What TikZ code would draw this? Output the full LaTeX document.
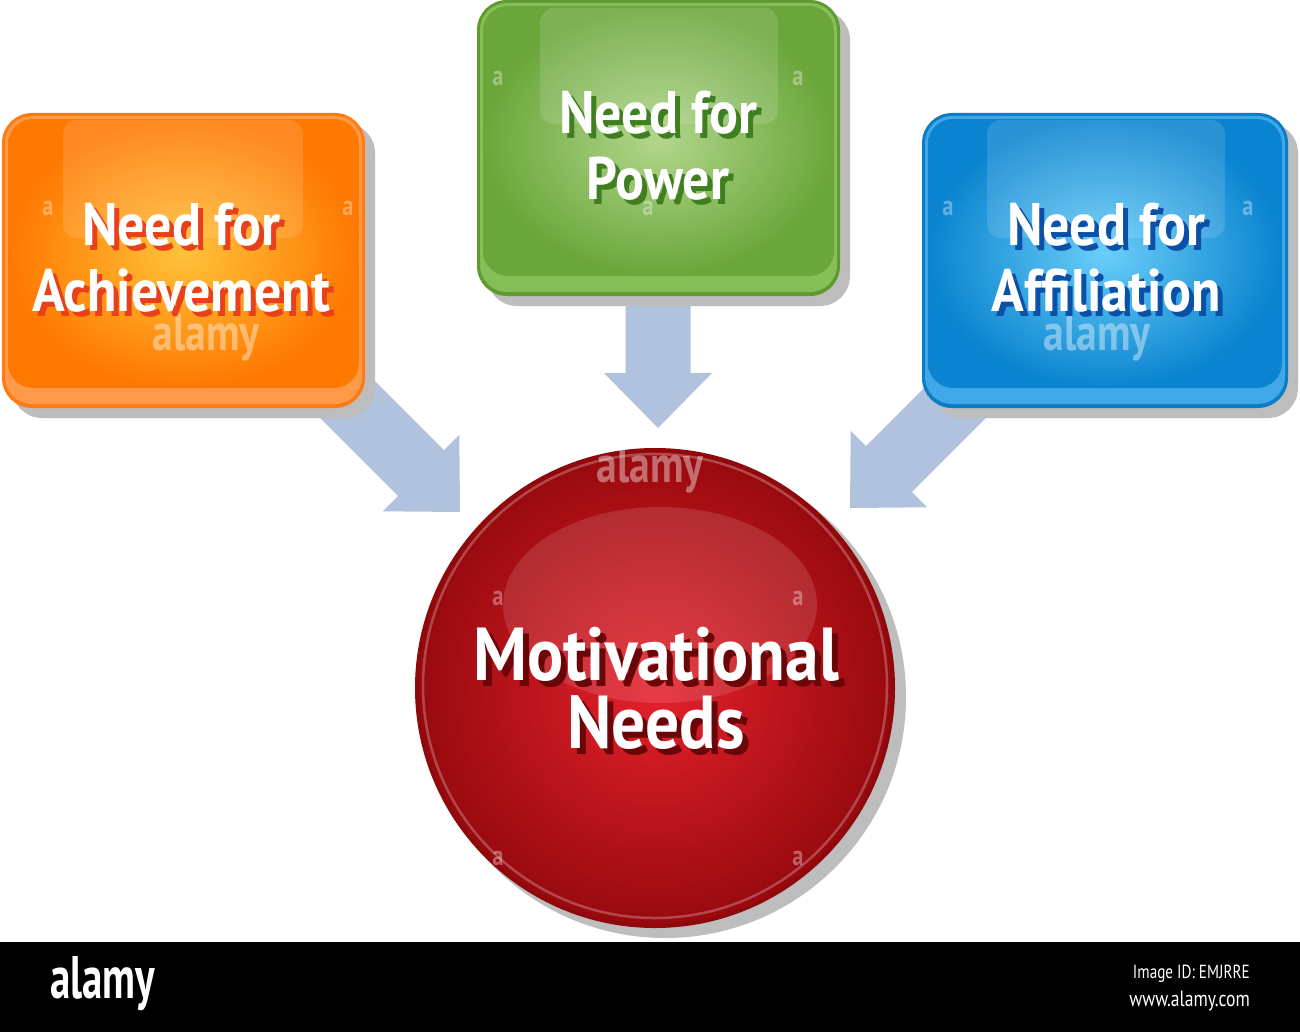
\documentclass[tikz,border=0pt]{standalone}
\usepackage{fontspec}
\newfontfamily\cond[FakeStretch=0.9]{PT Sans}
\newfontfamily\condw[FakeStretch=0.8]{PT Sans}
\newfontfamily\condx[FakeStretch=0.68]{PT Sans}
\definecolor{arrowc}{HTML}{B0C2DE}
\definecolor{shadowc}{HTML}{BDBDBD}
\definecolor{orRim}{HTML}{FF7A10}
\definecolor{orLight}{HTML}{FF9A48}
\definecolor{orOut}{HTML}{FF7800}
\definecolor{orIn}{HTML}{FFC23A}
\definecolor{orTxt}{HTML}{E8401A}
\definecolor{grRim}{HTML}{5E9A30}
\definecolor{grLight}{HTML}{86BE58}
\definecolor{grOut}{HTML}{6AA63A}
\definecolor{grIn}{HTML}{B2D68C}
\definecolor{grTxt}{HTML}{3F7F1F}
\definecolor{blRim}{HTML}{0C7CC4}
\definecolor{blLight}{HTML}{40A8E8}
\definecolor{blOut}{HTML}{0A84D0}
\definecolor{blIn}{HTML}{6ACEF8}
\definecolor{blTxt}{HTML}{0A4FA8}
\definecolor{rdRim}{HTML}{8E080C}
\definecolor{rdOut}{HTML}{980A0E}
\definecolor{rdIn}{HTML}{E5212C}
\definecolor{rdTxt}{HTML}{6A0508}
\begin{document}
\begin{tikzpicture}[x=1pt,y=-1pt,
  blockarrow/.style={fill=arrowc},
  lbl/.style={text=white,font=\cond\bfseries\fontsize{60}{66}\selectfont,align=center,inner sep=0},
  bigl/.style={text=white,font=\cond\bfseries\fontsize{75}{68}\selectfont,align=center,inner sep=0},
  wm/.style={text=white,opacity=0.4,font=\condw\bfseries\fontsize{52}{52}\selectfont,inner sep=0},
  wa/.style={text=white,opacity=0.35,font=\condw\bfseries\fontsize{28}{28}\selectfont,inner sep=0},
  hl/.style={fill=white,fill opacity=0.13,rounded corners=14}
]
\useasboundingbox (0,0) rectangle (1300,1032);
\fill[white] (0,0) rectangle (1300,1032);

% ---------- block arrows ----------
\def\arrowpath#1{(0,0) -- (54,-55) -- (32.5,-55) -- (32.5,-#1) -- (-32.5,-#1) -- (-32.5,-55) -- (-54,-55) -- cycle}
\begin{scope}[shift={(658,428)}]
  \fill[blockarrow] \arrowpath{130};
\end{scope}
\begin{scope}[shift={(460,512)},rotate=45]
  \fill[blockarrow] \arrowpath{180};
\end{scope}
\begin{scope}[shift={(850,508)},rotate=-45]
  \fill[blockarrow] \arrowpath{180};
\end{scope}

% ---------- orange box ----------
\fill[shadowc,rounded corners=30] (12,123) rectangle (375,418);
\fill[orRim,rounded corners=30] (2,113) rectangle (365,408);
\fill[orLight,rounded corners=27] (5,116) rectangle (362,404);
\shade[inner color=orIn,outer color=orOut,rounded corners=25] (8,119) rectangle (359,388);
\fill[hl] (63,120) rectangle (303,238);

% ---------- green box ----------
\fill[shadowc,rounded corners=30] (487,10) rectangle (850,306);
\fill[grRim,rounded corners=30] (477,0) rectangle (840,296);
\fill[grLight,rounded corners=27] (480,3) rectangle (837,292);
\shade[inner color=grIn,outer color=grOut,rounded corners=25] (483,6) rectangle (834,276);
\fill[hl] (540,8) rectangle (778,124);

% ---------- blue box ----------
\fill[shadowc,rounded corners=30] (932,123) rectangle (1298,418);
\fill[blRim,rounded corners=30] (922,113) rectangle (1288,408);
\fill[blLight,rounded corners=27] (925,116) rectangle (1285,404);
\shade[inner color=blIn,outer color=blOut,rounded corners=25] (928,119) rectangle (1282,388);
\fill[hl] (987,120) rectangle (1225,238);

% ---------- circle ----------
\fill[shadowc] (665,697) circle[radius=241];
\fill[rdRim] (655,688) circle[radius=240];
\shade[inner color=rdIn,outer color=rdOut] (655,688) circle[radius=236];
\draw[white,opacity=0.25,line width=2.5] (655,686) circle[radius=232];
\fill[white,fill opacity=0.12] (660,605) ellipse[x radius=157,y radius=98];

% ---------- watermarks ----------
\node[wm] (wm1) at (206,338) {alamy};
\node[wm] (wm2) at (1097,338) {alamy};
\node[wm] (wm3) at (650,470) {alamy};
\node[wa] (a1) at (48,208) {a};
\node[wa] (a2) at (348,208) {a};
\node[wa] (a3) at (498,78) {a};
\node[wa] (a4) at (798,78) {a};
\node[wa] (a5) at (948,208) {a};
\node[wa] (a6) at (1248,208) {a};
\node[wa] (a7) at (498,598) {a};
\node[wa] (a8) at (798,598) {a};
\node[wa] (a9) at (498,858) {a};
\node[wa] (a10) at (798,858) {a};
\node[wa] (a11) at (648,208) {a};

% ---------- labels (shadow + text) ----------
\node[lbl,text=orTxt] (achS) at (186,263) {Need for\\Achievement};
\node[lbl] (ach) at (181,258) {Need for\\Achievement};
\node[lbl,text=grTxt] (powS) at (663,151) {Need for\\Power};
\node[lbl] (pow) at (658,146) {Need for\\Power};
\node[lbl,text=blTxt] (affS) at (1111,263) {Need for\\Affiliation};
\node[lbl] (aff) at (1106,258) {Need for\\Affiliation};
\node[bigl,text=rdTxt] (motS) at (662,694) {Motivational\\Needs};
\node[bigl] (mot) at (656,688) {Motivational\\Needs};

% ---------- footer ----------
\fill[black] (0,942) rectangle (1300,1032);
\node[text=white,font=\condx\bfseries\fontsize{60}{60}\selectfont,inner sep=0,anchor=west] (logo) at (50,984) {alamy};
\node[text=white,font=\condw\fontsize{19}{19}\selectfont,inner sep=0,anchor=east] (imgid) at (1250,974) {Image ID: EMJRRE};
\node[text=white,font=\condw\fontsize{22}{22}\selectfont,inner sep=0,anchor=east] (www) at (1250,1001) {www.alamy.com};
\end{tikzpicture}
\end{document}
